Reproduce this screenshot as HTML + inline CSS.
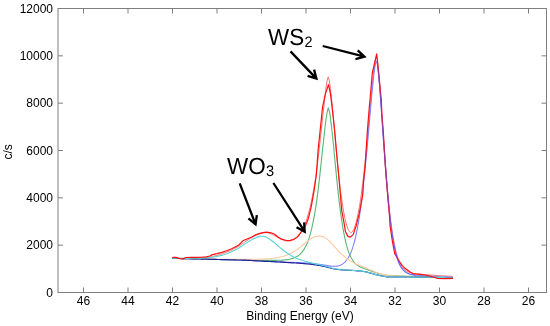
<!DOCTYPE html>
<html><head><meta charset="utf-8"><style>
html,body{margin:0;padding:0;background:#fff;}
svg{display:block;}
text{font-family:"Liberation Sans",Arial,sans-serif;font-size:12px;fill:#000;}
</style></head><body>
<svg width="550" height="326" viewBox="0 0 550 326">
<rect x="58.0" y="8.5" width="488.5" height="284.0" fill="none" stroke="#7f7f7f" stroke-width="1"/>
<path d="M83.50 292.5V287.5M83.50 8.5V13.5M128.00 292.5V287.5M128.00 8.5V13.5M172.50 292.5V287.5M172.50 8.5V13.5M217.00 292.5V287.5M217.00 8.5V13.5M261.50 292.5V287.5M261.50 8.5V13.5M306.00 292.5V287.5M306.00 8.5V13.5M350.50 292.5V287.5M350.50 8.5V13.5M395.00 292.5V287.5M395.00 8.5V13.5M439.50 292.5V287.5M439.50 8.5V13.5M484.00 292.5V287.5M484.00 8.5V13.5M528.50 292.5V287.5M528.50 8.5V13.5M58.0 245.17H63.0M546.5 245.17H541.5M58.0 197.83H63.0M546.5 197.83H541.5M58.0 150.50H63.0M546.5 150.50H541.5M58.0 103.17H63.0M546.5 103.17H541.5M58.0 55.83H63.0M546.5 55.83H541.5" stroke="#7f7f7f" stroke-width="1" fill="none"/>
<text x="83.50" y="305" text-anchor="middle">46</text>
<text x="128.00" y="305" text-anchor="middle">44</text>
<text x="172.50" y="305" text-anchor="middle">42</text>
<text x="217.00" y="305" text-anchor="middle">40</text>
<text x="261.50" y="305" text-anchor="middle">38</text>
<text x="306.00" y="305" text-anchor="middle">36</text>
<text x="350.50" y="305" text-anchor="middle">34</text>
<text x="395.00" y="305" text-anchor="middle">32</text>
<text x="439.50" y="305" text-anchor="middle">30</text>
<text x="484.00" y="305" text-anchor="middle">28</text>
<text x="528.50" y="305" text-anchor="middle">26</text>
<text x="53" y="296.80" text-anchor="end">0</text>
<text x="53" y="249.47" text-anchor="end">2000</text>
<text x="53" y="202.13" text-anchor="end">4000</text>
<text x="53" y="154.80" text-anchor="end">6000</text>
<text x="53" y="107.47" text-anchor="end">8000</text>
<text x="53" y="60.13" text-anchor="end">10000</text>
<text x="53" y="12.80" text-anchor="end">12000</text>
<text x="300" y="320.3" text-anchor="middle">Binding Energy (eV)</text>
<text transform="translate(12.2 151.8) rotate(-90)" text-anchor="middle">c/s</text>
<polyline points="172.4,258.1 173.5,258.2 174.6,258.2 175.8,258.2 176.9,258.2 178.0,258.2 179.1,258.2 180.2,258.2 181.3,258.3 182.4,258.3 183.5,258.3 184.7,258.3 185.8,258.3 186.9,258.3 188.0,258.3 189.1,258.3 190.2,258.2 191.3,258.2 192.4,258.2 193.6,258.2 194.7,258.2 195.8,258.1 196.9,258.1 198.0,258.1 199.1,258.0 200.2,258.0 201.4,257.9 202.5,257.8 203.6,257.8 204.7,257.7 205.8,257.6 206.9,257.5 208.0,257.3 209.1,257.1 210.3,256.9 211.4,256.7 212.5,256.5 213.6,256.2 214.7,255.9 215.8,255.7 216.9,255.4 218.0,255.1 219.2,254.8 220.3,254.4 221.4,254.1 222.5,253.7 223.6,253.3 224.7,252.9 225.8,252.5 226.9,252.1 228.1,251.6 229.2,251.2 230.3,250.7 231.4,250.1 232.5,249.6 233.6,249.0 234.7,248.4 235.8,247.7 237.0,247.1 238.1,246.5 239.2,245.8 240.3,245.1 241.4,244.4 242.5,243.6 243.6,242.9 244.7,242.2 245.9,241.4 247.0,240.7 248.1,239.9 249.2,239.2 250.3,238.5 251.4,237.8 252.5,237.1 253.7,236.5 254.8,235.8 255.9,235.2 257.0,234.7 258.1,234.2 259.2,233.8 260.3,233.4 261.4,233.1 262.6,232.9 263.7,232.8 264.8,232.7 265.9,232.6 267.0,232.7 268.1,232.8 269.2,233.1 270.3,233.4 271.5,234.0 272.6,234.5 273.7,235.1 274.8,235.7 275.9,236.3 277.0,237.0 278.1,237.6 279.2,238.2 280.4,238.8 281.5,239.3 282.6,239.8 283.7,240.2 284.8,240.5 285.9,240.8 287.0,241.0 288.1,241.1 289.3,241.0 290.4,240.9 291.5,240.6 292.6,240.2 293.7,239.7 294.8,239.1 295.9,238.2 297.0,237.3 298.2,236.1 299.3,234.8 300.4,233.2 301.5,231.5 302.6,229.4 303.7,227.1 304.8,224.5 305.9,221.6 307.1,218.3 308.2,214.6 309.3,210.6 310.4,206.0 311.5,201.0 312.6,195.4 313.7,189.3 314.9,182.5 316.0,175.0 317.1,166.9 318.2,158.1 319.3,148.6 320.4,138.5 321.5,128.1 322.6,117.4 323.8,106.9 324.9,96.9 326.0,87.9 327.1,80.7 328.2,76.9 329.3,80.3 330.4,88.3 331.5,98.7 332.7,110.4 333.8,122.6 334.9,135.0 336.0,147.3 337.1,159.1 338.2,170.3 339.3,180.6 340.4,190.1 341.6,198.6 342.7,206.2 343.8,212.7 344.9,218.3 346.0,222.9 347.1,226.7 348.2,229.5 349.3,231.4 350.5,232.4 351.6,232.3 352.7,231.3 353.8,229.3 354.9,226.4 356.0,222.8 357.1,218.4 358.2,213.1 359.4,206.9 360.5,199.9 361.6,192.0 362.7,183.4 363.8,173.9 364.9,163.6 366.0,152.5 367.2,140.8 368.3,128.7 369.4,116.3 370.5,103.8 371.6,91.8 372.7,80.5 373.8,70.4 374.9,62.3 376.1,57.1 377.2,58.6 378.3,67.4 379.4,79.8 380.5,94.2 381.6,109.8 382.7,126.0 383.8,142.0 385.0,157.5 386.1,172.2 387.2,185.8 388.3,198.2 389.4,209.3 390.5,219.1 391.6,227.8 392.7,235.3 393.9,241.8 395.0,247.4 396.1,252.1 397.2,256.0 398.3,259.3 399.4,262.1 400.5,264.4 401.6,266.2 402.8,267.8 403.9,269.0 405.0,270.0 406.1,270.8 407.2,271.5 408.3,272.0 409.4,272.4 410.5,272.8 411.7,273.1 412.8,273.3 413.9,273.5 415.0,273.7 416.1,273.8 417.2,273.9 418.3,274.0 419.5,274.2 420.6,274.3 421.7,274.4 422.8,274.4 423.9,274.5 425.0,274.6 426.1,274.7 427.2,274.8 428.4,274.9 429.5,274.9 430.6,275.0 431.7,275.1 432.8,275.2 433.9,275.2 435.0,275.3 436.1,275.4 437.3,275.5 438.4,275.5 439.5,275.6 440.6,275.7 441.7,275.7 442.8,275.8 443.9,275.9 445.0,276.0 446.2,276.0 447.3,276.1 448.4,276.2 449.5,276.2 450.6,276.3 451.7,276.4 452.8,276.5" fill="none" stroke="#ff7070" stroke-width="1"/>
<polyline points="172.4,258.3 173.5,258.3 174.6,258.4 175.8,258.4 176.9,258.4 178.0,258.4 179.1,258.5 180.2,258.5 181.3,258.5 182.4,258.6 183.5,258.6 184.7,258.6 185.8,258.7 186.9,258.7 188.0,258.7 189.1,258.7 190.2,258.8 191.3,258.8 192.4,258.8 193.6,258.9 194.7,258.9 195.8,258.9 196.9,258.9 198.0,259.0 199.1,259.0 200.2,259.0 201.4,259.1 202.5,259.1 203.6,259.1 204.7,259.1 205.8,259.2 206.9,259.2 208.0,259.2 209.1,259.3 210.3,259.3 211.4,259.3 212.5,259.4 213.6,259.4 214.7,259.4 215.8,259.4 216.9,259.5 218.0,259.5 219.2,259.5 220.3,259.5 221.4,259.6 222.5,259.6 223.6,259.6 224.7,259.6 225.8,259.7 226.9,259.7 228.1,259.7 229.2,259.7 230.3,259.8 231.4,259.8 232.5,259.8 233.6,259.8 234.7,259.9 235.8,259.9 237.0,259.9 238.1,260.0 239.2,260.0 240.3,260.0 241.4,260.0 242.5,260.1 243.6,260.1 244.7,260.1 245.9,260.2 247.0,260.2 248.1,260.3 249.2,260.3 250.3,260.4 251.4,260.4 252.5,260.5 253.7,260.6 254.8,260.6 255.9,260.7 257.0,260.7 258.1,260.8 259.2,260.9 260.3,260.9 261.4,261.0 262.6,261.0 263.7,261.1 264.8,261.1 265.9,261.2 267.0,261.2 268.1,261.3 269.2,261.3 270.3,261.4 271.5,261.4 272.6,261.5 273.7,261.5 274.8,261.6 275.9,261.6 277.0,261.7 278.1,261.7 279.2,261.8 280.4,261.8 281.5,261.9 282.6,261.9 283.7,262.0 284.8,262.0 285.9,262.1 287.0,262.1 288.1,262.2 289.3,262.2 290.4,262.3 291.5,262.3 292.6,262.4 293.7,262.4 294.8,262.5 295.9,262.5 297.0,262.6 298.2,262.6 299.3,262.7 300.4,262.7 301.5,262.8 302.6,262.8 303.7,262.9 304.8,263.0 305.9,263.0 307.1,263.1 308.2,263.2 309.3,263.3 310.4,263.4 311.5,263.5 312.6,263.6 313.7,263.7 314.9,263.8 316.0,263.9 317.1,264.1 318.2,264.2 319.3,264.3 320.4,264.5 321.5,264.6 322.6,264.8 323.8,265.0 324.9,265.1 326.0,265.3 327.1,265.5 328.2,265.7 329.3,265.9 330.4,266.1 331.5,266.3 332.7,266.3 333.8,266.4 334.9,266.3 336.0,266.3 337.1,266.1 338.2,265.9 339.3,265.6 340.4,265.2 341.6,264.6 342.7,263.9 343.8,263.1 344.9,262.1 346.0,260.9 347.1,259.5 348.2,257.8 349.3,255.9 350.5,253.6 351.6,250.9 352.7,247.7 353.8,244.1 354.9,240.0 356.0,235.2 357.1,229.8 358.2,223.7 359.4,216.8 360.5,209.2 361.6,200.7 362.7,191.5 363.8,181.4 364.9,170.7 366.0,159.2 367.2,147.2 368.3,134.7 369.4,121.9 370.5,109.2 371.6,96.9 372.7,85.4 373.8,75.1 374.9,66.8 376.1,61.4 377.2,62.7 378.3,71.4 379.4,83.6 380.5,97.8 381.6,113.3 382.7,129.3 383.8,145.2 385.0,160.6 386.1,175.1 387.2,188.6 388.3,200.9 389.4,211.9 390.5,221.7 391.6,230.3 392.7,237.7 393.9,244.1 395.0,249.6 396.1,254.2 397.2,258.0 398.3,261.3 399.4,264.0 400.5,266.2 401.6,268.0 402.8,269.4 403.9,270.6 405.0,271.6 406.1,272.4 407.2,273.0 408.3,273.5 409.4,273.9 410.5,274.3 411.7,274.5 412.8,274.8 413.9,274.9 415.0,275.1 416.1,275.2 417.2,275.3 418.3,275.4 419.5,275.5 420.6,275.6 421.7,275.6 422.8,275.7 423.9,275.8 425.0,275.8 426.1,275.9 427.2,275.9 428.4,276.0 429.5,276.0 430.6,276.1 431.7,276.1 432.8,276.2 433.9,276.3 435.0,276.3 436.1,276.4 437.3,276.4 438.4,276.5 439.5,276.5 440.6,276.6 441.7,276.7 442.8,276.7 443.9,276.8 445.0,276.8 446.2,276.9 447.3,277.0 448.4,277.0 449.5,277.1 450.6,277.1 451.7,277.2 452.8,277.3" fill="none" stroke="#8080ff" stroke-width="1.1"/>
<polyline points="172.4,258.3 173.5,258.3 174.6,258.4 175.8,258.4 176.9,258.4 178.0,258.4 179.1,258.5 180.2,258.5 181.3,258.5 182.4,258.6 183.5,258.6 184.7,258.6 185.8,258.6 186.9,258.7 188.0,258.7 189.1,258.7 190.2,258.8 191.3,258.8 192.4,258.8 193.6,258.9 194.7,258.9 195.8,258.9 196.9,258.9 198.0,259.0 199.1,259.0 200.2,259.0 201.4,259.1 202.5,259.1 203.6,259.1 204.7,259.1 205.8,259.2 206.9,259.2 208.0,259.2 209.1,259.2 210.3,259.3 211.4,259.3 212.5,259.3 213.6,259.4 214.7,259.4 215.8,259.4 216.9,259.4 218.0,259.5 219.2,259.5 220.3,259.5 221.4,259.5 222.5,259.5 223.6,259.6 224.7,259.6 225.8,259.6 226.9,259.6 228.1,259.6 229.2,259.7 230.3,259.7 231.4,259.7 232.5,259.7 233.6,259.7 234.7,259.7 235.8,259.8 237.0,259.8 238.1,259.8 239.2,259.8 240.3,259.8 241.4,259.9 242.5,259.9 243.6,259.9 244.7,259.9 245.9,259.9 247.0,260.0 248.1,260.0 249.2,260.0 250.3,260.1 251.4,260.1 252.5,260.1 253.7,260.2 254.8,260.2 255.9,260.2 257.0,260.3 258.1,260.3 259.2,260.3 260.3,260.4 261.4,260.4 262.6,260.4 263.7,260.4 264.8,260.4 265.9,260.4 267.0,260.4 268.1,260.4 269.2,260.4 270.3,260.4 271.5,260.4 272.6,260.4 273.7,260.4 274.8,260.4 275.9,260.4 277.0,260.3 278.1,260.3 279.2,260.3 280.4,260.2 281.5,260.2 282.6,260.1 283.7,260.0 284.8,259.9 285.9,259.8 287.0,259.6 288.1,259.5 289.3,259.3 290.4,259.0 291.5,258.7 292.6,258.4 293.7,258.0 294.8,257.6 295.9,257.0 297.0,256.4 298.2,255.7 299.3,254.9 300.4,253.9 301.5,252.7 302.6,251.4 303.7,249.9 304.8,248.1 305.9,246.0 307.1,243.5 308.2,240.7 309.3,237.4 310.4,233.7 311.5,229.4 312.6,224.5 313.7,218.9 314.9,212.6 316.0,205.6 317.1,197.8 318.2,189.2 319.3,179.9 320.4,170.1 321.5,159.7 322.6,149.1 323.8,138.5 324.9,128.5 326.0,119.5 327.1,112.3 328.2,108.1 329.3,110.7 330.4,117.6 331.5,126.8 332.7,137.3 333.8,148.5 334.9,160.0 336.0,171.4 337.1,182.4 338.2,192.9 339.3,202.6 340.4,211.4 341.6,219.4 342.7,226.6 343.8,232.9 344.9,238.4 346.0,243.2 347.1,247.3 348.2,250.9 349.3,253.9 350.5,256.4 351.6,258.5 352.7,260.3 353.8,261.8 354.9,263.1 356.0,264.2 357.1,265.1 358.2,265.8 359.4,266.4 360.5,267.0 361.6,267.5 362.7,267.9 363.8,268.4 364.9,268.8 366.0,269.2 367.2,269.6 368.3,270.0 369.4,270.4 370.5,270.8 371.6,271.1 372.7,271.5 373.8,271.9 374.9,272.3 376.1,272.7 377.2,273.1 378.3,273.4 379.4,273.7 380.5,274.0 381.6,274.3 382.7,274.5 383.8,274.8 385.0,275.0 386.1,275.2 387.2,275.4 388.3,275.5 389.4,275.6 390.5,275.7 391.6,275.7 392.7,275.8 393.9,275.8 395.0,275.8 396.1,275.9 397.2,275.9 398.3,276.0 399.4,276.0 400.5,276.0 401.6,276.1 402.8,276.1 403.9,276.1 405.0,276.2 406.1,276.2 407.2,276.2 408.3,276.3 409.4,276.3 410.5,276.4 411.7,276.4 412.8,276.4 413.9,276.5 415.0,276.5 416.1,276.5 417.2,276.6 418.3,276.6 419.5,276.6 420.6,276.7 421.7,276.7 422.8,276.7 423.9,276.8 425.0,276.8 426.1,276.8 427.2,276.9 428.4,276.9 429.5,276.9 430.6,277.0 431.7,277.0 432.8,277.1 433.9,277.1 435.0,277.1 436.1,277.2 437.3,277.2 438.4,277.2 439.5,277.3 440.6,277.3 441.7,277.4 442.8,277.4 443.9,277.4 445.0,277.5 446.2,277.5 447.3,277.6 448.4,277.6 449.5,277.7 450.6,277.7 451.7,277.7 452.8,277.8" fill="none" stroke="#55b873" stroke-width="1.1"/>
<polyline points="172.4,258.2 173.5,258.3 174.6,258.3 175.8,258.3 176.9,258.4 178.0,258.4 179.1,258.4 180.2,258.4 181.3,258.5 182.4,258.5 183.5,258.5 184.7,258.5 185.8,258.6 186.9,258.6 188.0,258.6 189.1,258.6 190.2,258.7 191.3,258.7 192.4,258.7 193.6,258.7 194.7,258.8 195.8,258.8 196.9,258.8 198.0,258.8 199.1,258.9 200.2,258.9 201.4,258.9 202.5,258.9 203.6,258.9 204.7,259.0 205.8,259.0 206.9,259.0 208.0,259.0 209.1,259.0 210.3,259.1 211.4,259.1 212.5,259.1 213.6,259.1 214.7,259.1 215.8,259.1 216.9,259.2 218.0,259.2 219.2,259.2 220.3,259.2 221.4,259.2 222.5,259.2 223.6,259.2 224.7,259.2 225.8,259.2 226.9,259.2 228.1,259.2 229.2,259.2 230.3,259.2 231.4,259.2 232.5,259.3 233.6,259.3 234.7,259.2 235.8,259.2 237.0,259.2 238.1,259.2 239.2,259.2 240.3,259.2 241.4,259.2 242.5,259.2 243.6,259.2 244.7,259.2 245.9,259.2 247.0,259.2 248.1,259.2 249.2,259.2 250.3,259.2 251.4,259.2 252.5,259.2 253.7,259.2 254.8,259.2 255.9,259.2 257.0,259.2 258.1,259.2 259.2,259.2 260.3,259.2 261.4,259.1 262.6,259.1 263.7,259.0 264.8,259.0 265.9,258.9 267.0,258.8 268.1,258.8 269.2,258.7 270.3,258.6 271.5,258.5 272.6,258.3 273.7,258.2 274.8,258.0 275.9,257.9 277.0,257.7 278.1,257.5 279.2,257.3 280.4,257.0 281.5,256.8 282.6,256.5 283.7,256.2 284.8,255.8 285.9,255.5 287.0,255.0 288.1,254.6 289.3,254.1 290.4,253.6 291.5,253.0 292.6,252.4 293.7,251.8 294.8,251.1 295.9,250.4 297.0,249.6 298.2,248.8 299.3,247.9 300.4,247.1 301.5,246.2 302.6,245.2 303.7,244.3 304.8,243.4 305.9,242.5 307.1,241.6 308.2,240.7 309.3,239.9 310.4,239.1 311.5,238.4 312.6,237.8 313.7,237.2 314.9,236.8 316.0,236.5 317.1,236.2 318.2,236.1 319.3,236.1 320.4,236.2 321.5,236.4 322.6,236.6 323.8,237.0 324.9,237.6 326.0,238.3 327.1,239.1 328.2,240.1 329.3,241.2 330.4,242.3 331.5,243.5 332.7,244.7 333.8,245.9 334.9,247.2 336.0,248.4 337.1,249.6 338.2,250.8 339.3,252.0 340.4,253.1 341.6,254.2 342.7,255.2 343.8,256.1 344.9,257.0 346.0,257.9 347.1,258.7 348.2,259.5 349.3,260.2 350.5,260.9 351.6,261.6 352.7,262.2 353.8,262.8 354.9,263.3 356.0,263.9 357.1,264.4 358.2,264.8 359.4,265.3 360.5,265.7 361.6,266.2 362.7,266.6 363.8,267.1 364.9,267.5 366.0,268.0 367.2,268.5 368.3,269.0 369.4,269.4 370.5,269.9 371.6,270.3 372.7,270.8 373.8,271.3 374.9,271.8 376.1,272.2 377.2,272.7 378.3,273.1 379.4,273.4 380.5,273.8 381.6,274.1 382.7,274.4 383.8,274.7 385.0,274.9 386.1,275.2 387.2,275.4 388.3,275.6 389.4,275.7 390.5,275.8 391.6,275.8 392.7,275.9 393.9,275.9 395.0,276.0 396.1,276.0 397.2,276.1 398.3,276.1 399.4,276.2 400.5,276.2 401.6,276.2 402.8,276.3 403.9,276.3 405.0,276.3 406.1,276.4 407.2,276.4 408.3,276.5 409.4,276.5 410.5,276.5 411.7,276.6 412.8,276.6 413.9,276.6 415.0,276.7 416.1,276.7 417.2,276.7 418.3,276.7 419.5,276.8 420.6,276.8 421.7,276.8 422.8,276.9 423.9,276.9 425.0,276.9 426.1,276.9 427.2,277.0 428.4,277.0 429.5,277.0 430.6,277.1 431.7,277.1 432.8,277.1 433.9,277.2 435.0,277.2 436.1,277.2 437.3,277.3 438.4,277.3 439.5,277.3 440.6,277.4 441.7,277.4 442.8,277.4 443.9,277.5 445.0,277.5 446.2,277.5 447.3,277.6 448.4,277.6 449.5,277.7 450.6,277.7 451.7,277.8 452.8,277.8" fill="none" stroke="#ffc7a0" stroke-width="1.1"/>
<polyline points="172.4,258.3 173.5,258.3 174.6,258.4 175.8,258.4 176.9,258.4 178.0,258.4 179.1,258.5 180.2,258.5 181.3,258.5 182.4,258.6 183.5,258.6 184.7,258.6 185.8,258.7 186.9,258.7 188.0,258.7 189.1,258.7 190.2,258.8 191.3,258.8 192.4,258.8 193.6,258.9 194.7,258.9 195.8,258.9 196.9,258.9 198.0,259.0 199.1,259.0 200.2,259.0 201.4,259.1 202.5,259.1 203.6,259.1 204.7,259.2 205.8,259.2 206.9,259.2 208.0,259.2 209.1,259.3 210.3,259.3 211.4,259.3 212.5,259.4 213.6,259.4 214.7,259.4 215.8,259.4 216.9,259.5 218.0,259.5 219.2,259.5 220.3,259.6 221.4,259.6 222.5,259.6 223.6,259.6 224.7,259.7 225.8,259.7 226.9,259.7 228.1,259.7 229.2,259.8 230.3,259.8 231.4,259.8 232.5,259.8 233.6,259.9 234.7,259.9 235.8,259.9 237.0,260.0 238.1,260.0 239.2,260.0 240.3,260.0 241.4,260.1 242.5,260.1 243.6,260.2 244.7,260.2 245.9,260.2 247.0,260.3 248.1,260.3 249.2,260.4 250.3,260.4 251.4,260.5 252.5,260.6 253.7,260.6 254.8,260.7 255.9,260.8 257.0,260.8 258.1,260.9 259.2,261.0 260.3,261.0 261.4,261.1 262.6,261.1 263.7,261.2 264.8,261.3 265.9,261.3 267.0,261.4 268.1,261.4 269.2,261.5 270.3,261.5 271.5,261.6 272.6,261.7 273.7,261.7 274.8,261.8 275.9,261.9 277.0,261.9 278.1,262.0 279.2,262.0 280.4,262.1 281.5,262.2 282.6,262.2 283.7,262.3 284.8,262.4 285.9,262.5 287.0,262.5 288.1,262.6 289.3,262.7 290.4,262.7 291.5,262.8 292.6,262.8 293.7,262.9 294.8,263.0 295.9,263.0 297.0,263.1 298.2,263.2 299.3,263.2 300.4,263.3 301.5,263.4 302.6,263.5 303.7,263.6 304.8,263.7 305.9,263.8 307.1,263.9 308.2,264.0 309.3,264.1 310.4,264.2 311.5,264.4 312.6,264.5 313.7,264.7 314.9,264.8 316.0,265.0 317.1,265.1 318.2,265.3 319.3,265.5 320.4,265.7 321.5,265.9 322.6,266.1 323.8,266.3 324.9,266.5 326.0,266.8 327.1,267.1 328.2,267.4 329.3,267.7 330.4,268.0 331.5,268.3 332.7,268.5 333.8,268.8 334.9,269.0 336.0,269.2 337.1,269.3 338.2,269.5 339.3,269.6 340.4,269.7 341.6,269.8 342.7,269.9 343.8,270.0 344.9,270.1 346.0,270.1 347.1,270.2 348.2,270.2 349.3,270.3 350.5,270.3 351.6,270.4 352.7,270.5 353.8,270.5 354.9,270.6 356.0,270.7 357.1,270.8 358.2,270.8 359.4,270.9 360.5,271.0 361.6,271.2 362.7,271.3 363.8,271.5 364.9,271.7 366.0,271.9 367.2,272.2 368.3,272.5 369.4,272.8 370.5,273.0 371.6,273.3 372.7,273.6 373.8,274.0 374.9,274.3 376.1,274.6 377.2,274.9 378.3,275.2 379.4,275.5 380.5,275.7 381.6,275.9 382.7,276.1 383.8,276.3 385.0,276.5 386.1,276.7 387.2,276.8 388.3,276.9 389.4,277.0 390.5,277.0 391.6,277.0 392.7,277.0 393.9,277.0 395.0,277.0 396.1,277.0 397.2,277.0 398.3,277.0 399.4,277.0 400.5,277.0 401.6,277.0 402.8,277.0 403.9,277.0 405.0,277.0 406.1,277.0 407.2,277.0 408.3,277.0 409.4,277.0 410.5,277.0 411.7,277.1 412.8,277.1 413.9,277.1 415.0,277.1 416.1,277.1 417.2,277.1 418.3,277.1 419.5,277.1 420.6,277.1 421.7,277.2 422.8,277.2 423.9,277.2 425.0,277.2 426.1,277.2 427.2,277.2 428.4,277.2 429.5,277.3 430.6,277.3 431.7,277.3 432.8,277.3 433.9,277.4 435.0,277.4 436.1,277.4 437.3,277.4 438.4,277.5 439.5,277.5 440.6,277.5 441.7,277.5 442.8,277.6 443.9,277.6 445.0,277.6 446.2,277.7 447.3,277.7 448.4,277.7 449.5,277.8 450.6,277.8 451.7,277.8 452.8,277.9" fill="none" stroke="#23239a" stroke-width="1.2"/>
<polyline points="172.4,258.2 173.5,258.2 174.6,258.2 175.8,258.3 176.9,258.3 178.0,258.3 179.1,258.3 180.2,258.3 181.3,258.3 182.4,258.3 183.5,258.3 184.7,258.4 185.8,258.4 186.9,258.4 188.0,258.4 189.1,258.4 190.2,258.4 191.3,258.3 192.4,258.3 193.6,258.3 194.7,258.3 195.8,258.3 196.9,258.3 198.0,258.2 199.1,258.2 200.2,258.1 201.4,258.1 202.5,258.0 203.6,258.0 204.7,257.9 205.8,257.8 206.9,257.7 208.0,257.6 209.1,257.5 210.3,257.4 211.4,257.3 212.5,257.1 213.6,257.0 214.7,256.8 215.8,256.6 216.9,256.4 218.0,256.2 219.2,255.9 220.3,255.7 221.4,255.4 222.5,255.1 223.6,254.8 224.7,254.4 225.8,254.1 226.9,253.7 228.1,253.2 229.2,252.8 230.3,252.3 231.4,251.8 232.5,251.3 233.6,250.8 234.7,250.2 235.8,249.6 237.0,249.0 238.1,248.3 239.2,247.7 240.3,247.0 241.4,246.3 242.5,245.6 243.6,244.8 244.7,244.1 245.9,243.4 247.0,242.7 248.1,241.9 249.2,241.2 250.3,240.6 251.4,239.9 252.5,239.3 253.7,238.7 254.8,238.2 255.9,237.7 257.0,237.2 258.1,236.9 259.2,236.6 260.3,236.3 261.4,236.2 262.6,236.2 263.7,236.3 264.8,236.6 265.9,237.0 267.0,237.6 268.1,238.2 269.2,238.9 270.3,239.7 271.5,240.5 272.6,241.3 273.7,242.2 274.8,243.2 275.9,244.1 277.0,245.0 278.1,246.0 279.2,246.9 280.4,247.9 281.5,248.8 282.6,249.7 283.7,250.5 284.8,251.4 285.9,252.2 287.0,253.0 288.1,253.7 289.3,254.4 290.4,255.1 291.5,255.7 292.6,256.3 293.7,256.9 294.8,257.5 295.9,258.0 297.0,258.4 298.2,258.9 299.3,259.3 300.4,259.7 301.5,260.1 302.6,260.5 303.7,260.8 304.8,261.2 305.9,261.5 307.1,261.8 308.2,262.1 309.3,262.4 310.4,262.6 311.5,262.9 312.6,263.2 313.7,263.4 314.9,263.7 316.0,263.9 317.1,264.2 318.2,264.4 319.3,264.7 320.4,264.9 321.5,265.2 322.6,265.5 323.8,265.7 324.9,266.0 326.0,266.3 327.1,266.6 328.2,267.0 329.3,267.3 330.4,267.7 331.5,268.0 332.7,268.2 333.8,268.5 334.9,268.7 336.0,268.9 337.1,269.1 338.2,269.3 339.3,269.4 340.4,269.6 341.6,269.7 342.7,269.8 343.8,269.8 344.9,269.9 346.0,270.0 347.1,270.1 348.2,270.1 349.3,270.2 350.5,270.2 351.6,270.3 352.7,270.4 353.8,270.4 354.9,270.5 356.0,270.6 357.1,270.7 358.2,270.8 359.4,270.9 360.5,271.0 361.6,271.1 362.7,271.3 363.8,271.4 364.9,271.7 366.0,271.9 367.2,272.2 368.3,272.5 369.4,272.7 370.5,273.0 371.6,273.3 372.7,273.6 373.8,273.9 374.9,274.3 376.1,274.6 377.2,274.9 378.3,275.2 379.4,275.5 380.5,275.7 381.6,275.9 382.7,276.1 383.8,276.3 385.0,276.5 386.1,276.7 387.2,276.8 388.3,276.9 389.4,277.0 390.5,277.0 391.6,277.0 392.7,277.0 393.9,277.0 395.0,277.0 396.1,277.0 397.2,277.0 398.3,277.0 399.4,277.0 400.5,277.0 401.6,277.0 402.8,277.0 403.9,277.0 405.0,277.0 406.1,277.0 407.2,277.0 408.3,277.0 409.4,277.0 410.5,277.0 411.7,277.1 412.8,277.1 413.9,277.1 415.0,277.1 416.1,277.1 417.2,277.1 418.3,277.1 419.5,277.1 420.6,277.1 421.7,277.2 422.8,277.2 423.9,277.2 425.0,277.2 426.1,277.2 427.2,277.2 428.4,277.2 429.5,277.3 430.6,277.3 431.7,277.3 432.8,277.3 433.9,277.4 435.0,277.4 436.1,277.4 437.3,277.4 438.4,277.5 439.5,277.5 440.6,277.5 441.7,277.5 442.8,277.6 443.9,277.6 445.0,277.6 446.2,277.7 447.3,277.7 448.4,277.7 449.5,277.8 450.6,277.8 451.7,277.8 452.8,277.9" fill="none" stroke="#55d3d8" stroke-width="1.1"/>
<polyline points="172.5,257.3 176,257.4 178.5,258.4 181,259.0 183.5,258.7 185.8,257.5 191.8,257.3 198.9,257.3 202.5,257.1 206.2,256.8 209.8,256.0 212.5,254.6 216.9,253.7 221.8,252.4 226.7,250.8 231.6,248.8 236.6,246.2 239.5,244.4 242.8,240.8 246.4,239.3 251.3,237.2 256.2,234.6 259.2,233.6 262.9,232.7 266.8,232.2 270.8,232.8 274.7,234.3 277.6,236.7 281.6,239.2 286.5,240.5 290.4,240.4 294.3,239.0 297.3,237.0 300.2,233.4 302.5,229.9 305.8,225 308.3,218.7 311.3,206.4 314.3,189.3 316.4,174.5 318.1,150 320.2,130 322.6,106.8 325.4,93.9 328.5,84.7 330.5,93.9 332.7,112.4 334.6,130 336.5,152 339.1,180 340.4,195 341.7,210.3 344,222.6 345.5,231.8 347.8,236.1 350.1,237.2 353.2,234.6 356.2,225.7 359.3,213.4 361.6,201.1 362.7,195 363.6,180 365.1,167 367.3,132 369.2,108.4 370.0,100 372.3,73 376.7,53.8 381.3,100 381.8,113.3 383.3,132 385.4,167 387.2,190 389.4,215 390.1,226 392.4,241.3 394.7,253.6 399.3,261.3 402.3,265.6 405,268.3 409.8,271.8 413.1,273.8 418.8,274.2 425,275 430,276 437,278.3 445,278.6 453,278.3" fill="none" stroke="#ff1010" stroke-width="1.2" stroke-linejoin="round"/>
<polyline points="377.2,62.7 378.3,71.4 379.4,83.6 380.5,97.8 381.6,113.3 382.7,129.3 383.8,145.2 385.0,160.6 386.1,175.1 387.2,188.6 388.3,200.9 389.4,211.9 390.5,221.7 391.6,230.3 392.7,237.7 393.9,244.1 395.0,249.6 396.1,254.2 397.2,258.0 398.3,261.3 399.4,264.0 400.5,266.2 401.6,268.0 402.8,269.4 403.9,270.6 405.0,271.6 406.1,272.4 407.2,273.0 408.3,273.5 409.4,273.9 410.5,274.3 411.7,274.5 412.8,274.8 413.9,274.9 415.0,275.1 416.1,275.2" fill="none" stroke="#5050ff" stroke-width="1.1" stroke-opacity="0.55"/>
<text transform="translate(268 45) scale(1.0 1.045)" style="font-size:22.4px;text-rendering:geometricPrecision">WS<tspan style="font-size:14.5px" dx="0.4" dy="2">2</tspan></text>
<text transform="translate(227 173.7) scale(1.0 1.045)" style="font-size:22.4px;text-rendering:geometricPrecision">WO<tspan style="font-size:14.6px" dx="0.4" dy="2.3">3</tspan></text>
<path d="M322.7 46L364.46 56.7M355.46 59.05L364.46 56.7L357.70 50.31M290.5 51.4L316.42 78.65M307.55 75.86L316.42 78.65L314.08 69.65M239.7 183.3L255.58 224.33M248.44 218.37L255.58 224.33L256.85 215.12M273.4 183L304.72 231.72M296.53 227.32L304.72 231.72L304.11 222.44" stroke="#000" stroke-width="2.3" fill="none" stroke-linejoin="miter"/>
</svg>
</body></html>
